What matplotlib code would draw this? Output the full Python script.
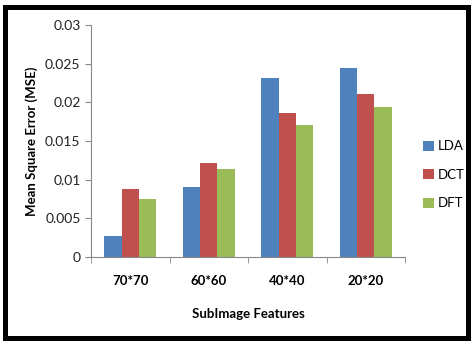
import matplotlib.pyplot as plt
import numpy as np
from matplotlib.patches import Rectangle

categories = ["70*70", "60*60", "40*40", "20*20"]
lda = [0.0027, 0.0091, 0.0232, 0.0244]
dct = [0.0088, 0.0121, 0.0186, 0.0211]
dft = [0.0075, 0.0114, 0.0171, 0.0194]

plt.rcParams['font.family'] = ['Lato', 'DejaVu Sans']

W, H = 474, 350
fig = plt.figure(figsize=(W / 100, H / 100), dpi=100)
ax = fig.add_axes([91 / W, 1 - 257 / H, (405 - 91) / W, (257 - 25) / H])

index = np.arange(len(categories))
bar_width = 0.22
ax.bar(index - bar_width, lda, bar_width, color='#4F81BD', label='LDA')
ax.bar(index, dct, bar_width, color='#C0504D', label='DCT')
ax.bar(index + bar_width, dft, bar_width, color='#9BBB59', label='DFT')

ax.set_xlim(-0.5, len(categories) - 0.5)
ax.set_ylim(0, 0.03)
ax.set_yticks([0, 0.005, 0.01, 0.015, 0.02, 0.025, 0.03])
ax.set_yticklabels(['0', '0.005', '0.01', '0.015', '0.02', '0.025', '0.03'])
ax.set_xticks(index)
ax.set_xticklabels(categories, fontweight='bold')
ax.set_xticks(np.arange(-0.5, len(categories)), minor=True)
ax.tick_params(axis='x', which='major', length=0, pad=13, labelsize=9.5)
ax.tick_params(axis='x', which='minor', length=4, color='#888888')
ax.tick_params(axis='y', length=4, color='#888888', labelsize=10)
for t in ax.get_yticklabels():
    t.set_color('#222222')

for s in ['top', 'right']:
    ax.spines[s].set_visible(False)
ax.spines['left'].set_color('#888888')
ax.spines['bottom'].set_color('#888888')

ax.set_xlabel('SubImage Features', fontweight='bold', fontsize=9.5, labelpad=15)
ax.set_ylabel('Mean Square Error (MSE)', fontweight='bold', fontsize=9.5, labelpad=5)

ax.legend(loc='center left', bbox_to_anchor=(1.02, 0.355), frameon=False,
          handlelength=0.8, handleheight=0.8, handletextpad=0.3,
          labelspacing=1.25, fontsize=9.5)

# thick black frame around the whole chart
fig.patches.append(Rectangle((5 / W, 1 - 337.5 / H), 462.5 / W, 331 / H,
                             transform=fig.transFigure, fill=False,
                             edgecolor='black', linewidth=3.6))

fig.savefig('out.png', dpi=100)
